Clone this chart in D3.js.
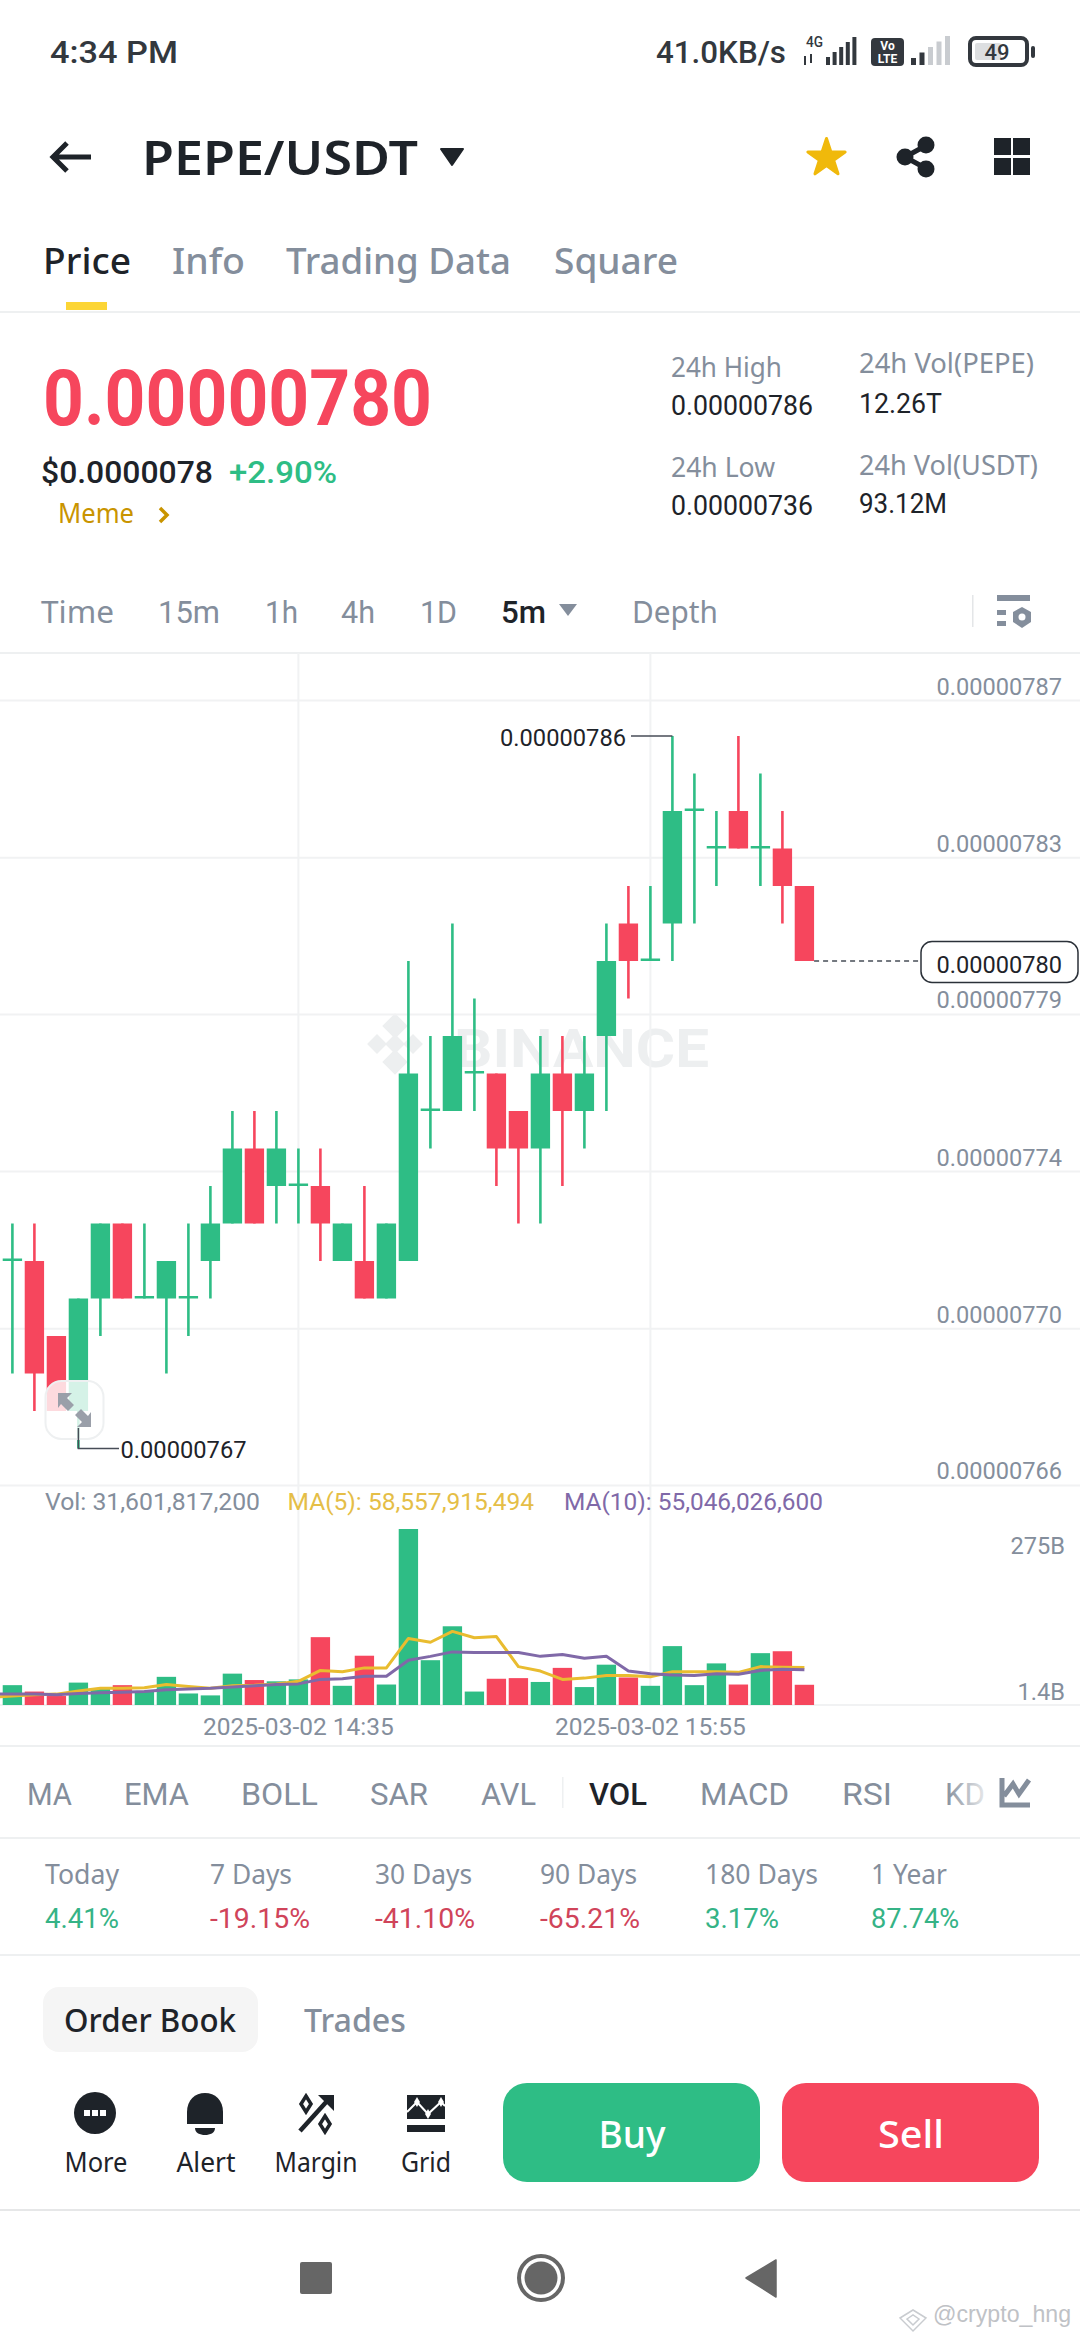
<!DOCTYPE html>
<html>
<head>
<meta charset="utf-8">
<script src="https://cdn.jsdelivr.net/npm/d3@7/dist/d3.min.js"></script>
<style>
html, body { margin: 0; padding: 0; background: #fff; }
svg { display: block; }
</style>
</head>
<body>
<svg id="svgId"></svg>
<script>
// candle times, 5 minute candles
var times = ["13:30", "13:35", "13:40", "13:45", "13:50", "13:55", "14:00", "14:05", "14:10", "14:15",
    "14:20", "14:25", "14:30", "14:35", "14:40", "14:45", "14:50", "14:55", "15:00", "15:05",
    "15:10", "15:15", "15:20", "15:25", "15:30", "15:35", "15:40", "15:45", "15:50", "15:55",
    "16:00", "16:05", "16:10", "16:15", "16:20", "16:25", "16:30"];

// prices in units of 0.00000001 USDT
var opens = [772, 772, 770, 768, 771, 773, 771, 771, 771, 772, 773, 775, 774, 774, 774, 772, 772, 771, 772,
    776, 776, 777, 777, 776, 775, 777, 776, 778, 781, 780, 781, 784, 783, 784, 783, 783, 782];
var closes = [772, 769, 768, 771, 773, 771, 771, 772, 771, 773, 775, 773, 775, 774, 773, 773, 771, 773, 777,
    776, 778, 777, 775, 775, 777, 776, 777, 780, 780, 780, 784, 784, 783, 783, 783, 782, 780];
var highs = [773, 773, 770, 771, 773, 773, 773, 772, 773, 774, 776, 776, 776, 775, 775, 773, 774, 773, 780,
    778, 781, 779, 777, 776, 778, 778, 778, 781, 782, 782, 786, 785, 784, 786, 785, 784, 782];
var lows = [769, 768, 768, 767, 770, 771, 771, 769, 770, 771, 773, 773, 773, 773, 772, 772, 771, 771, 772,
    775, 776, 776, 774, 773, 773, 774, 775, 776, 779, 780, 780, 781, 782, 783, 782, 781, 780];

// volume in billions
var volumes = [31, 21, 14, 35, 25, 31, 21, 44, 18, 15, 49, 39, 37, 40, 106, 30, 77, 32, 275,
    70, 123, 21, 41, 42, 36, 58, 28, 63, 43, 30, 92, 31, 65, 32, 81, 84, 31.6];
// the first MA value belongs to the candle just off the left edge
var ma5 = [12, 14, 16, 17, 22, 26, 26, 27, 32, 29, 26, 30, 31, 33, 37, 54, 52, 58, 58, 104,
    98, 115, 105, 107, 60, 53, 40, 42, 46, 46, 44, 52, 52, 52, 51, 60, 59, 58.56];
var ma10 = [17, 17, 17, 16, 18, 19, 20, 21, 24, 25, 26, 28, 30, 32, 33, 40, 41, 45, 45, 70,
    76, 83, 82, 82, 82, 76, 79, 73, 76, 53, 49, 47, 46, 49, 48, 54, 56, 55.05];

var priceTicks = [786.96, 782.77, 778.59, 774.4, 770.21, 766.03];
var volumeTicks = [275, 1.4];
var timeTicks = ["14:35", "15:55"];
var lastPrice = 780, highPrice = 786, lowPrice = 767;

var tabLabels = ["Price", "Info", "Trading Data", "Square"];
var intervalLabels = ["Time", "15m", "1h", "4h", "1D", "5m", "Depth"];
var indicatorLabels = ["MA", "EMA", "BOLL", "SAR", "AVL", "VOL", "MACD", "RSI", "KD"];
var periodLabels = ["Today", "7 Days", "30 Days", "90 Days", "180 Days", "1 Year"];
var periodChanges = ["4.41%", "-19.15%", "-41.10%", "-65.21%", "3.17%", "87.74%"];

var UP = "#2EBD85", DOWN = "#F6465D", DARK = "#1E2329", GRAY = "#848E9C", GRID = "#F1F2F3";
var NUM = "Roboto, sans-serif", WORD = "'Noto Sans', sans-serif";

var svg = d3.select(document.getElementById("svgId"))
    .attr("width", 1080)
    .attr("height", 2340)
    .attr("viewBox", "0 0 1080 2340");

svg.append("rect").attr("width", 1080).attr("height", 2340).attr("fill", "#fff");

// text helper, w is the measured width of the text in the screenshot
function put(x, y, str, size, color, weight, font, w, anchor) {
    var t = svg.append("text")
        .attr("x", x)
        .attr("y", y)
        .attr("font-size", size)
        .attr("fill", color)
        .attr("font-weight", weight || 400)
        .attr("font-family", font || NUM)
        .attr("text-anchor", anchor || "start")
        .text(str);
    if (w) {
        t.attr("textLength", w).attr("lengthAdjust", "spacingAndGlyphs");
    }
    return t;
}

function hline(y, color) {
    svg.append("line").attr("x1", 0).attr("x2", 1080).attr("y1", y).attr("y2", y)
        .attr("stroke", color || "#EEF0F1").attr("stroke-width", 2);
}

// ---------- status bar ----------
put(50, 63, "4:34 PM", 31, "#33383E", 500, NUM, 128);
put(656, 63, "41.0KB/s", 31, "#33383E", 500, NUM, 130);
put(806, 47, "4G", 14, "#33383E", 500, NUM, 17);
[0, 1, 2, 3, 4].forEach(function (i) {
    var h = 8 + i * 5;
    svg.append("rect").attr("x", 826 + i * 6.6).attr("y", 65 - h).attr("width", 4).attr("height", h).attr("fill", "#33383E");
});
svg.append("path").attr("d", "M805 56v9M811 54v9").attr("stroke", "#33383E").attr("stroke-width", 2);
svg.append("rect").attr("x", 871).attr("y", 38).attr("width", 33).attr("height", 28).attr("rx", 4).attr("fill", "#33383E");
put(887.5, 50, "Vo", 12, "#fff", 700, NUM, null, "middle");
put(887.5, 63, "LTE", 12, "#fff", 700, NUM, null, "middle");
[0, 1, 2, 3, 4].forEach(function (i) {
    var h = 7 + i * 5.5;
    svg.append("rect").attr("x", 911 + i * 8.5).attr("y", 65 - h).attr("width", 5).attr("height", h)
        .attr("fill", i < 2 ? "#33383E" : "#C9CCD0");
});
svg.append("rect").attr("x", 970).attr("y", 38).attr("width", 57).attr("height", 27).attr("rx", 6)
    .attr("fill", "none").attr("stroke", "#33383E").attr("stroke-width", 4);
svg.append("rect").attr("x", 975).attr("y", 43).attr("width", 26).attr("height", 17).attr("rx", 2).attr("fill", "#DDDFE1");
svg.append("rect").attr("x", 1031).attr("y", 46).attr("width", 4).attr("height", 12).attr("rx", 2).attr("fill", "#33383E");
put(997, 60, "49", 22, "#33383E", 500, NUM, null, "middle");

// ---------- header ----------
svg.append("path").attr("d", "M91 157H54M67 143L53 157L67 171")
    .attr("fill", "none").attr("stroke", DARK).attr("stroke-width", 5);
put(142, 175, "PEPE/USDT", 46, DARK, 600, WORD, 276);
svg.append("path").attr("d", "M441 149H463L452 165Z").attr("fill", DARK).attr("stroke", DARK).attr("stroke-width", 2).attr("stroke-linejoin", "round");
svg.append("path").attr("d", d3.symbol(d3.symbolStar, 430))
    .attr("transform", "translate(826.5,158)").attr("fill", "#F0B90B").attr("stroke", "#F0B90B")
    .attr("stroke-width", 3).attr("stroke-linejoin", "round");
svg.append("path").attr("d", "M927 145L905 157L927 169").attr("fill", "none").attr("stroke", DARK).attr("stroke-width", 5);
[[905, 157], [926, 145], [926, 169]].forEach(function (c) {
    svg.append("circle").attr("cx", c[0]).attr("cy", c[1]).attr("r", 8.5).attr("fill", DARK);
});
[[994, 138], [1013, 138], [994, 158], [1013, 158]].forEach(function (c) {
    svg.append("rect").attr("x", c[0]).attr("y", c[1]).attr("width", 17).attr("height", 17).attr("fill", DARK);
});

// ---------- tabs ----------
var tabX = [43, 172, 286, 554], tabW = [88, 73, 225, 124];
tabLabels.forEach(function (d, i) {
    put(tabX[i], 274, d, 37, i == 0 ? DARK : GRAY, 500, WORD, tabW[i]);
});
svg.append("rect").attr("x", 66).attr("y", 302).attr("width", 41).attr("height", 8).attr("fill", "#FCD535");
hline(312);

// ---------- price block ----------
put(43, 425, "0.00000780", 78, DOWN, 700, NUM, 389);
put(41, 483, "$0.0000078", 31, DARK, 500, NUM, 172);
put(229, 483, "+2.90%", 31, UP, 500, NUM, 108);
put(58, 523, "Meme", 28, "#C99400", 400, WORD, 76);
svg.append("path").attr("d", "M160 508L167 515L160 522").attr("fill", "none").attr("stroke", "#C99400").attr("stroke-width", 3.5);
put(671, 377, "24h High", 27, GRAY, 400, WORD, 111);
put(671, 415, "0.00000786", 27, DARK, 400, NUM, 142);
put(859, 373, "24h Vol(PEPE)", 27, GRAY, 400, WORD, 175);
put(859, 413, "12.26T", 27, DARK, 400, NUM, 83);
put(671, 477, "24h Low", 27, GRAY, 400, WORD, 104);
put(671, 515, "0.00000736", 27, DARK, 400, NUM, 142);
put(859, 475, "24h Vol(USDT)", 27, GRAY, 400, WORD, 179);
put(859, 513, "93.12M", 27, DARK, 400, NUM, 88);

// ---------- interval row ----------
var intervalX = [41, 158, 265, 341, 420, 501, 632], intervalW = [73, 62, 33, 34, 37, 45, 86];
intervalLabels.forEach(function (d, i) {
    var active = d == "5m";
    put(intervalX[i], 623, d, 31, active ? DARK : GRAY, active ? 500 : 400, d == "Time" || d == "Depth" ? WORD : NUM, intervalW[i]);
});
svg.append("path").attr("d", "M559 604H577L568 616Z").attr("fill", GRAY);
svg.append("rect").attr("x", 972).attr("y", 595).attr("width", 1.5).attr("height", 32).attr("fill", "#E4E6E8");
svg.append("rect").attr("x", 997).attr("y", 595).attr("width", 33).attr("height", 6).attr("fill", GRAY);
svg.append("rect").attr("x", 997).attr("y", 610).attr("width", 9).attr("height", 5).attr("fill", GRAY);
svg.append("rect").attr("x", 997).attr("y", 621).attr("width", 9).attr("height", 5).attr("fill", GRAY);
svg.append("path").attr("d", "M1022 607L1031 612V622L1022 628L1013 622V612Z").attr("fill", GRAY);
svg.append("circle").attr("cx", 1022).attr("cy", 617).attr("r", 3.5).attr("fill", "#fff");
hline(653);

// ---------- chart scales ----------
var x = d3.scaleBand()
    .domain(times)
    .range([1.4, 1.4 + 37 * 22])
    .paddingInner(0.12)
    .paddingOuter(0.06);

var y = d3.scaleLinear()
    .domain([lowPrice, highPrice])
    .range([1448.5, 736]);

var yVol = d3.scaleLinear()
    .domain([0, 275])
    .range([1705, 1529]);

function center(d) { return x(d) + x.bandwidth() / 2; }

// watermark
var logo = svg.append("g").attr("fill", "#EDEFF0").attr("transform", "translate(395,1044)");
[[0, -18, 9], [-18, 0, 7], [18, 0, 7], [0, 18, 9], [0, 0, 7]].forEach(function (c) {
    logo.append("rect").attr("x", c[0] - c[2]).attr("y", c[1] - c[2]).attr("width", c[2] * 2).attr("height", c[2] * 2)
        .attr("transform", "rotate(45 " + c[0] + " " + c[1] + ")");
});
put(454, 1067, "BINANCE", 54, "#EDEFF0", 700, NUM, 255);

// price grid, labels sit above the line
var priceAxis = svg.append("g")
    .attr("transform", "translate(1080,0)")
    .call(d3.axisLeft(y).tickValues(priceTicks).tickSize(1080).tickFormat(function (d) { return (d / 1e8).toFixed(8); }));
priceAxis.select(".domain").remove();
priceAxis.selectAll("line").attr("stroke", GRID).attr("stroke-width", 2);
priceAxis.selectAll("text")
    .attr("x", -18).attr("dy", -6).attr("text-anchor", "end")
    .attr("font-family", NUM).attr("font-size", 23.6).attr("fill", GRAY);

// vertical time grid and date labels
var timeGrid = svg.append("g")
    .attr("transform", "translate(0,1705)")
    .call(d3.axisBottom(x).tickValues(timeTicks).tickSize(-1052).tickFormat(function (d) { return "2025-03-02 " + d; }));
timeGrid.select(".domain").remove();
timeGrid.selectAll("line").attr("stroke", GRID).attr("stroke-width", 2);
timeGrid.selectAll("text")
    .attr("y", 30).attr("dy", 0)
    .attr("font-family", NUM).attr("font-size", 24.5).attr("fill", GRAY);

hline(1705, GRID);

// ---------- candles ----------
var rows = times.map(function (t, i) {
    return { t: t, o: opens[i], c: closes[i], h: highs[i], l: lows[i], v: volumes[i] };
});
function colorOf(d) { return d.c >= d.o ? UP : DOWN; }

var candle = svg.append("g").selectAll("g").data(rows).enter().append("g");

candle.append("line")
    .attr("x1", function (d) { return center(d.t); })
    .attr("x2", function (d) { return center(d.t); })
    .attr("y1", function (d) { return y(d.h); })
    .attr("y2", function (d) { return y(d.l); })
    .attr("stroke", colorOf)
    .attr("stroke-width", 2.6);

candle.append("rect")
    .attr("x", function (d) { return x(d.t); })
    .attr("width", x.bandwidth())
    .attr("y", function (d) { return d.o == d.c ? y(d.c) - 2.5 : y(Math.max(d.o, d.c)); })
    .attr("height", function (d) { return d.o == d.c ? 2.5 : Math.abs(y(d.o) - y(d.c)); })
    .attr("fill", colorOf);

// high and low markers
var highRow = rows[highs.indexOf(highPrice)], lowRow = rows[lows.indexOf(lowPrice)];
svg.append("path")
    .attr("d", "M" + center(highRow.t) + " " + y(highPrice) + "H631")
    .attr("fill", "none").attr("stroke", "#474D57").attr("stroke-width", 1.5);
put(500, 746, "0.00000786", 24, DARK, 400, NUM, 126);

// expand button sits over the candles
svg.append("rect").attr("x", 45.5).attr("y", 1381).attr("width", 58).attr("height", 58).attr("rx", 16)
    .attr("fill", "#fff").attr("fill-opacity", 0.8).attr("stroke", "#EEF0F1").attr("stroke-width", 2);
svg.append("path").attr("d", "M58 1393H72L67 1398L74 1405L68 1411L61 1404L58 1408Z").attr("fill", "#9A9FA9");
svg.append("path").attr("d", "M91 1427H77L82 1422L75 1415L81 1409L88 1416L91 1412Z").attr("fill", "#9A9FA9");

svg.append("path")
    .attr("d", "M" + center(lowRow.t) + " 1428V" + y(lowPrice) + "H119")
    .attr("fill", "none").attr("stroke", "#474D57").attr("stroke-width", 1.5);
put(120.5, 1458, "0.00000767", 24, DARK, 400, NUM, 126);

// last price tag
svg.append("line")
    .attr("x1", x(times[36]) + x.bandwidth()).attr("x2", 920)
    .attr("y1", y(lastPrice)).attr("y2", y(lastPrice))
    .attr("stroke", "#474D57").attr("stroke-width", 1.5).attr("stroke-dasharray", "5,4");
svg.append("rect").attr("x", 921).attr("y", 941.5).attr("width", 157).attr("height", 41).attr("rx", 11)
    .attr("fill", "#fff").attr("stroke", "#2B3139").attr("stroke-width", 1.5);
put(1062, 973, (lastPrice / 1e8).toFixed(8), 23.6, DARK, 400, NUM, null, "end");

// ---------- volume ----------
put(45, 1510, "Vol: 31,601,817,200", 24, GRAY, 400, NUM, 215);
put(287.5, 1510, "MA(5): 58,557,915,494", 24, "#E5BE47", 400, NUM, 246.5);
put(564, 1510, "MA(10): 55,046,026,600", 24, "#8069A8", 400, NUM, 259);

svg.append("g").selectAll("rect").data(rows).enter().append("rect")
    .attr("x", function (d) { return x(d.t); })
    .attr("width", x.bandwidth())
    .attr("y", function (d) { return yVol(d.v); })
    .attr("height", function (d) { return yVol(0) - yVol(d.v); })
    .attr("fill", colorOf);

var maLine = d3.line()
    .x(function (d, i) { return center(times[0]) + (i - 1) * x.step(); })
    .y(function (d) { return yVol(d); });

svg.append("path").datum(ma5)
    .attr("fill", "none").attr("stroke", "#E9BC2F").attr("stroke-width", 3).attr("stroke-linejoin", "round")
    .attr("d", maLine);
svg.append("path").datum(ma10)
    .attr("fill", "none").attr("stroke", "#8069A8").attr("stroke-width", 3).attr("stroke-linejoin", "round")
    .attr("d", maLine);

var volAxis = svg.append("g")
    .attr("transform", "translate(1065,0)")
    .call(d3.axisLeft(yVol).tickValues(volumeTicks).tickSize(0).tickPadding(0).tickFormat(function (d) { return d + "B"; }));
volAxis.select(".domain").remove();
volAxis.selectAll("text")
    .attr("dy", function (d) { return d == 275 ? 24 : -5; })
    .attr("font-family", NUM).attr("font-size", 23.6).attr("fill", GRAY);

// ---------- indicator row ----------
hline(1746);
var fade = svg.append("defs").append("linearGradient").attr("id", "kdFade");
fade.append("stop").attr("offset", "0").attr("stop-color", GRAY);
fade.append("stop").attr("offset", "1").attr("stop-color", "#E6E8EA");
var indicatorX = [27, 124, 241, 370, 481, 589, 700, 842, 945], indicatorW = [45, 65, 77, 58, 55, 58, 89, 50, 40];
indicatorLabels.forEach(function (d, i) {
    var t = put(indicatorX[i], 1805, d, 31, d == "VOL" ? DARK : GRAY, d == "VOL" ? 500 : 400, NUM, indicatorW[i]);
    if (d == "KD") t.attr("fill", "url(#kdFade)");
});
svg.append("rect").attr("x", 562).attr("y", 1777).attr("width", 1.5).attr("height", 31).attr("fill", "#EEF0F1");
svg.append("path").attr("d", "M1002 1778V1805H1030M1004 1796L1013 1784L1019 1794L1029 1780")
    .attr("fill", "none").attr("stroke", GRAY).attr("stroke-width", 5);
hline(1838);

var periodX = [45, 210, 375, 540, 705, 871];
var periodW = [74, 82, 97, 97, 113, 76];
var changeW = [74, 100, 100, 100, 74, 88];
periodLabels.forEach(function (d, i) {
    put(periodX[i], 1884, d, 27, GRAY, 400, WORD, periodW[i]);
    var neg = periodChanges[i].charAt(0) == "-";
    put(periodX[i], 1928, periodChanges[i], 27, neg ? "#D0445A" : "#35B386", 400, NUM, changeW[i]);
});
hline(1955);

// ---------- order book tabs and actions ----------
svg.append("rect").attr("x", 43).attr("y", 1987).attr("width", 215).attr("height", 65).attr("rx", 16).attr("fill", "#F5F5F5");
put(64, 2032, "Order Book", 32, DARK, 500, WORD, 172);
put(304, 2032, "Trades", 32, GRAY, 500, WORD, 102);

// more
svg.append("circle").attr("cx", 95).attr("cy", 2113).attr("r", 21).attr("fill", DARK);
[84, 92, 100].forEach(function (cx) {
    svg.append("rect").attr("x", cx).attr("y", 2110).attr("width", 6).attr("height", 6).attr("fill", "#fff");
});
// alert
svg.append("path").attr("d", "M187 2124V2112C187 2100 195 2093 205 2093C215 2093 223 2100 223 2112V2124Z").attr("fill", DARK);
svg.append("path").attr("d", "M195 2128H215C215 2133 210 2135 205 2135C200 2135 195 2133 195 2128Z").attr("fill", DARK);
// margin
svg.append("path").attr("d", "M300 2131L328 2100").attr("stroke", DARK).attr("stroke-width", 4.5);
svg.append("path").attr("d", "M318 2095H334V2111Z").attr("fill", DARK);
svg.append("path").attr("d", "M306 2096L311 2104L306 2112L301 2104ZM325 2116L330 2124L325 2132L320 2124Z")
    .attr("fill", "none").attr("stroke", DARK).attr("stroke-width", 3.5);
// grid
svg.append("rect").attr("x", 407).attr("y", 2095).attr("width", 38).attr("height", 24).attr("fill", DARK);
svg.append("rect").attr("x", 407).attr("y", 2125).attr("width", 38).attr("height", 7).attr("fill", DARK);
svg.append("path").attr("d", "M407 2112L417 2102L428 2114L441 2102L445 2106").attr("fill", "none").attr("stroke", "#fff").attr("stroke-width", 2);
[[417, 2102], [428, 2114], [441, 2102]].forEach(function (c) {
    svg.append("path").attr("d", d3.symbol(d3.symbolDiamond, 30)).attr("transform", "translate(" + c[0] + "," + c[1] + ")").attr("fill", "#fff");
});

put(96, 2172, "More", 27, DARK, 400, WORD, 63, "middle");
put(206, 2172, "Alert", 27, DARK, 400, WORD, 59, "middle");
put(316, 2172, "Margin", 27, DARK, 400, WORD, 83, "middle");
put(426, 2172, "Grid", 27, DARK, 400, WORD, 50, "middle");

svg.append("rect").attr("x", 503).attr("y", 2083).attr("width", 257).attr("height", 99).attr("rx", 24).attr("fill", UP);
svg.append("rect").attr("x", 782).attr("y", 2083).attr("width", 257).attr("height", 99).attr("rx", 24).attr("fill", DOWN);
put(632, 2148, "Buy", 38, "#fff", 500, WORD, 67, "middle");
put(911, 2148, "Sell", 38, "#fff", 500, WORD, 66, "middle");

hline(2210, "#E6E7E8");

// ---------- navigation bar ----------
svg.append("rect").attr("x", 300).attr("y", 2262).attr("width", 32).attr("height", 32).attr("rx", 2).attr("fill", "#666");
svg.append("circle").attr("cx", 541).attr("cy", 2278).attr("r", 22).attr("fill", "none").attr("stroke", "#666").attr("stroke-width", 4);
svg.append("circle").attr("cx", 541).attr("cy", 2278).attr("r", 16.5).attr("fill", "#666");
svg.append("path").attr("d", "M776 2260V2297L746 2278Z").attr("fill", "#666").attr("stroke", "#666").attr("stroke-width", 1.5).attr("stroke-linejoin", "round");

// screenshot watermark
svg.append("path").attr("d", "M900 2318L913 2310L926 2318L913 2331ZM907 2319L913 2315L919 2319L913 2325Z")
    .attr("fill", "none").attr("stroke", "#C9CCD0").attr("stroke-width", 1.5);
put(933, 2322, "@crypto_hng", 24, "#BFC2C6", 400, "'Liberation Sans', sans-serif", 138);
</script>
</body>
</html>
